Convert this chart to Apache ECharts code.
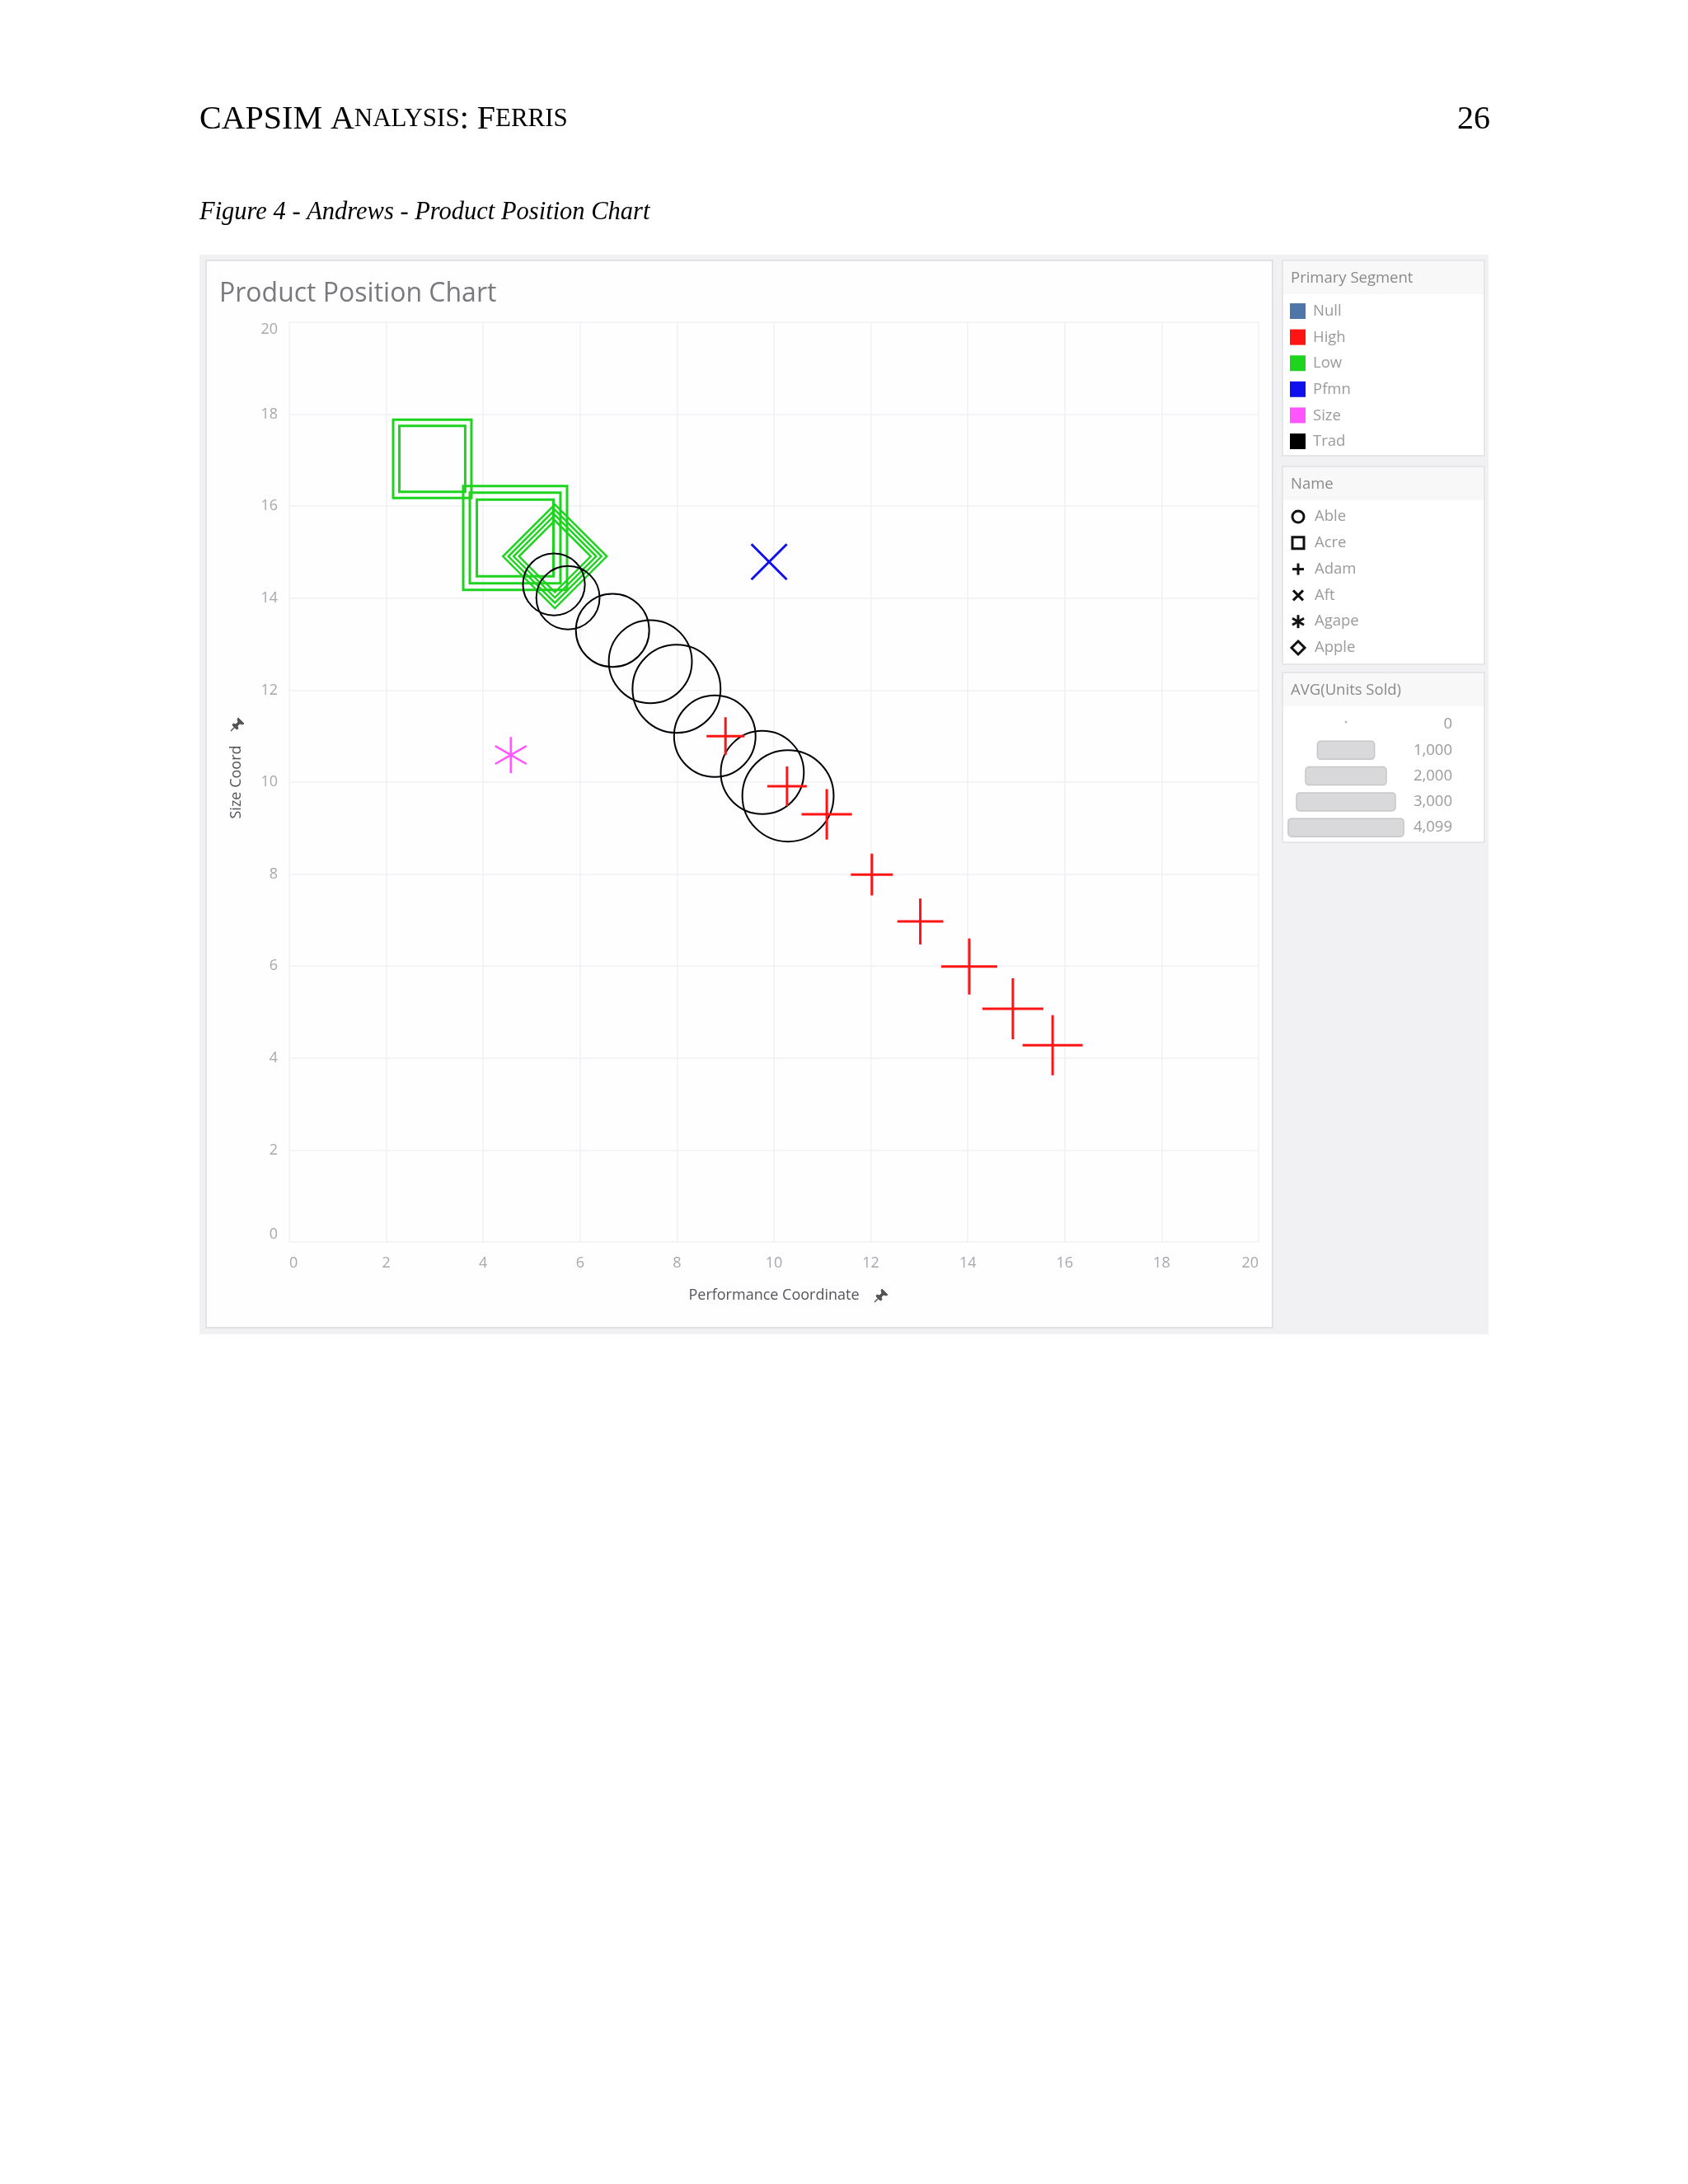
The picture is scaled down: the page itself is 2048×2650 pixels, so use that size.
<!DOCTYPE html>
<html>
<head>
<meta charset="utf-8">
<title>Product Position Chart</title>
<script src="https://cdn.jsdelivr.net/npm/echarts@6/dist/echarts.min.js"></script>
<style>
  html, body { margin: 0; padding: 0; background: #ffffff; }
  #main { width: 2048px; height: 2650px; }
</style>
</head>
<body>
<div id="main"></div>
<script>
// ---- data ----
var segments = ['Null', 'High', 'Low', 'Pfmn', 'Size', 'Trad'];
var names = ['Able', 'Acre', 'Adam', 'Aft', 'Agape', 'Apple'];
var nameSegment = ['Trad', 'Low', 'High', 'Pfmn', 'Size', 'Low'];
var axisTicks = [0, 2, 4, 6, 8, 10, 12, 14, 16, 18, 20];
var sizeLegendValues = [0, 1000, 2000, 3000, 4099];

// Able - circles
var ableX = [5.46, 5.75, 6.67, 7.45, 7.99, 8.78, 9.76, 10.29];
var ableY = [14.30, 14.01, 13.30, 12.62, 12.03, 11.00, 10.21, 9.70];
var ableUnits = [1180, 1230, 1650, 2120, 2380, 2040, 2120, 2560];
// Acre - squares
var acreX = [2.95, 2.95, 4.66, 4.66, 4.66];
var acreY = [17.03, 17.03, 15.31, 15.31, 15.31];
var acreUnits = [1880, 1330, 3310, 2520, 1800];
// Adam - plus
var adamX = [9.00, 10.27, 11.09, 12.02, 13.02, 14.03, 14.93, 15.75];
var adamY = [11.00, 9.91, 9.30, 7.99, 6.97, 5.99, 5.07, 4.28];
var adamUnits = [440, 480, 780, 540, 650, 960, 1140, 1110];
// Aft - cross
var aftX = [9.90];
var aftY = [14.79];
var aftUnits = [385];
// Agape - asterisk
var agapeX = [4.57];
var agapeY = [10.59];
var agapeUnits = [400];
// Apple - diamonds
var appleX = [5.48, 5.48, 5.48, 5.48];
var appleY = [14.91, 14.91, 14.91, 14.91];
var appleUnits = [3310, 2660, 2090, 1580];

// ---- styles ----
var segmentColors = {
  Null: '#4f76a9', High: '#ff1414', Low: '#1fd41f',
  Pfmn: '#1010ee', Size: '#ff55ff', Trad: '#000000'
};
var shapeOf = {
  Able: 'circle', Acre: 'rect', Adam: 'path://M0,10L20,10M10,0L10,20',
  Aft: 'path://M0,0L20,20M20,0L0,20',
  Agape: 'path://M10,0L10,20M1.34,5L18.66,15M1.34,15L18.66,5',
  Apple: 'diamond'
};
var lineWidthOf = { Able: 2, Acre: 3, Adam: 3, Aft: 3, Agape: 2.5, Apple: 2.5 };

// size legend bars show linear size ~ sqrt(units)
function unitsToPx(u) { return 2.19 * Math.sqrt(u); }

function zip(xs, ys, us) {
  var out = [];
  for (var i = 0; i < xs.length; i++) out.push([xs[i], ys[i], us[i]]);
  return out;
}

var dataOf = {
  Able: zip(ableX, ableY, ableUnits),
  Acre: zip(acreX, acreY, acreUnits),
  Adam: zip(adamX, adamY, adamUnits),
  Aft: zip(aftX, aftY, aftUnits),
  Agape: zip(agapeX, agapeY, agapeUnits),
  Apple: zip(appleX, appleY, appleUnits)
};

// drawing order: squares under diamonds under circles under plus
var drawOrder = ['Acre', 'Apple', 'Able', 'Adam', 'Aft', 'Agape'];
var series = drawOrder.map(function (n) {
  var col = segmentColors[nameSegment[names.indexOf(n)]];
  return {
    name: n,
    type: 'scatter',
    data: dataOf[n],
    symbol: shapeOf[n],
    symbolKeepAspect: true,
    symbolSize: function (v) { return unitsToPx(v[2]); },
    itemStyle: { color: 'rgba(0,0,0,0)', borderColor: col, borderWidth: lineWidthOf[n], opacity: 1 },
    emphasis: { disabled: true },
    silent: true
  };
});

// ---- page + legend graphics ----
var uiFont = '"Open Sans", "Noto Sans", sans-serif';
var legendFont = '18.5px ' + uiFont;
var graphic = [];

// document header
graphic.push({
  type: 'text', x: 242, y: 125,
  style: {
    text: '{a|CAPSIM A}{b|NALYSIS}{a|: F}{b|ERRIS}',
    rich: {
      a: { fontFamily: '"Liberation Serif", serif', fontSize: 40, fill: '#000' },
      b: { fontFamily: '"Liberation Serif", serif', fontSize: 31, fill: '#000' }
    }
  }
});
graphic.push({
  type: 'text', x: 1808, y: 125,
  style: { text: '26', font: '40px "Liberation Serif", serif', fill: '#000', align: 'right' }
});
graphic.push({
  type: 'text', x: 242, y: 243,
  style: { text: 'Figure 4 - Andrews - Product Position Chart', font: 'italic 30.5px "Liberation Serif", serif', fill: '#000' }
});

// dashboard frame
graphic.push({ type: 'rect', z: -10, shape: { x: 242, y: 309, width: 1564, height: 1310 }, style: { fill: '#f1f1f3' } });
graphic.push({ type: 'rect', z: -9, shape: { x: 250, y: 316, width: 1294, height: 1295 }, style: { fill: '#fefdff', stroke: '#e2e2e4', lineWidth: 2 } });
graphic.push({
  type: 'text', x: 266, y: 341,
  style: { text: 'Product Position Chart', font: '32px ' + uiFont, fill: '#7a7a7a' }
});

// axis pins (small pushpin drawn as polygon + needle)
function pin(x, y) {
  var head = [[9, 0], [16, 7], [14, 8], [11, 7], [8, 10], [9, 13], [7, 14], [2, 9], [3, 7], [6, 8], [9, 5], [8, 2]];
  graphic.push({ type: 'polygon', shape: { points: head.map(function (p) { return [x + p[0], y + p[1]]; }) }, style: { fill: '#555', stroke: '#555', lineWidth: 1 } });
  graphic.push({ type: 'line', shape: { x1: x + 4.5, y1: y + 11.5, x2: x, y2: y + 16 }, style: { stroke: '#555', lineWidth: 1.5 } });
}
pin(1061, 1564);
pin(280, 871);

function panel(y, h, title) {
  graphic.push({ type: 'rect', z: -8, shape: { x: 1556, y: y, width: 245, height: h }, style: { fill: '#ffffff', stroke: '#e6e6e8', lineWidth: 2 } });
  graphic.push({ type: 'rect', z: -7, shape: { x: 1557, y: y + 1, width: 243, height: 40 }, style: { fill: '#f8f8f9' } });
  graphic.push({ type: 'text', x: 1566, y: y + 22, style: { text: title, font: legendFont, fill: '#8a8a8a', verticalAlign: 'middle' } });
}

// Primary Segment legend
panel(316, 237, 'Primary Segment');
segments.forEach(function (s, i) {
  var cy = 378 + i * 31.6;
  graphic.push({ type: 'rect', shape: { x: 1565, y: cy - 10, width: 19, height: 19 }, style: { fill: segmentColors[s] } });
  graphic.push({ type: 'text', x: 1593, y: cy, style: { text: s, font: legendFont, fill: '#9a9a9a', verticalAlign: 'middle' } });
});

// Name legend
panel(566, 240, 'Name');
function nameIcon(n, cx, cy) {
  var st = { fill: 'none', stroke: '#111', lineWidth: 3 };
  if (n === 'Able') return [{ type: 'circle', shape: { cx: cx, cy: cy, r: 7 }, style: st }];
  if (n === 'Acre') return [{ type: 'rect', shape: { x: cx - 7, y: cy - 7, width: 14, height: 14 }, style: st }];
  if (n === 'Apple') return [{ type: 'polygon', shape: { points: [[cx, cy - 8], [cx + 8, cy], [cx, cy + 8], [cx - 8, cy]] }, style: st }];
  var segs;
  if (n === 'Adam') segs = [[-7, 0, 7, 0], [0, -7, 0, 7]];
  else if (n === 'Aft') segs = [[-6, -6, 6, 6], [6, -6, -6, 6]];
  else segs = [[0, -8, 0, 8], [-7, -4, 7, 4], [-7, 4, 7, -4]];
  return segs.map(function (q) {
    return { type: 'line', shape: { x1: cx + q[0], y1: cy + q[1], x2: cx + q[2], y2: cy + q[3] }, style: { stroke: '#111', lineWidth: 3 } };
  });
}
names.forEach(function (n, i) {
  var cy = 627 + i * 31.8;
  nameIcon(n, 1575, cy).forEach(function (g) { graphic.push(g); });
  graphic.push({ type: 'text', x: 1595, y: cy, style: { text: n, font: legendFont, fill: '#9a9a9a', verticalAlign: 'middle' } });
});

// size legend
panel(816, 206, 'AVG(Units Sold)');
sizeLegendValues.forEach(function (u, i) {
  var cy = 879 + i * 31.3;
  var w = unitsToPx(u);
  if (u === 0) {
    graphic.push({ type: 'circle', shape: { cx: 1633, cy: cy - 3, r: 1.5 }, style: { fill: '#bbbbbb' } });
  } else {
    graphic.push({ type: 'rect', shape: { x: 1633 - w / 2, y: cy - 11, width: w, height: 22, r: 4 }, style: { fill: '#d9d9db', stroke: '#c6c6c8', lineWidth: 1.5 } });
  }
  graphic.push({ type: 'text', x: 1762, y: cy, style: { text: u.toLocaleString('en-US'), font: legendFont, fill: '#9a9a9a', align: 'right', verticalAlign: 'middle' } });
});

var chart = echarts.init(document.getElementById('main'), null, { renderer: 'canvas' });
chart.setOption({
  backgroundColor: '#ffffff',
  animation: false,
  graphic: graphic,
  grid: { left: 351, right: 521, top: 391, bottom: 1143, containLabel: false },
  xAxis: {
    type: 'value', min: axisTicks[0], max: axisTicks[axisTicks.length - 1], interval: axisTicks[1] - axisTicks[0],
    name: 'Performance Coordinate', nameLocation: 'middle', nameGap: 56,
    nameTextStyle: { color: '#555555', fontSize: 18, fontFamily: uiFont },
    axisLine: { show: false }, axisTick: { show: false },
    axisLabel: { color: '#a8a8a8', fontSize: 18, fontFamily: uiFont, margin: 17, alignMinLabel: 'left', alignMaxLabel: 'right' },
    splitLine: { show: true, lineStyle: { color: '#f1eff3', width: 1.5 } }
  },
  yAxis: {
    type: 'value', min: axisTicks[0], max: axisTicks[axisTicks.length - 1], interval: axisTicks[1] - axisTicks[0],
    name: 'Size Coord', nameLocation: 'middle', nameGap: 55, nameRotate: 90,
    nameTextStyle: { color: '#555555', fontSize: 18, fontFamily: uiFont },
    axisLine: { show: false }, axisTick: { show: false },
    axisLabel: { color: '#a8a8a8', fontSize: 18, fontFamily: uiFont, margin: 14, verticalAlignMinLabel: 'bottom', verticalAlignMaxLabel: 'top' },
    splitLine: { show: true, lineStyle: { color: '#f1eff3', width: 1.5 } }
  },
  series: series
});
</script>
</body>
</html>
